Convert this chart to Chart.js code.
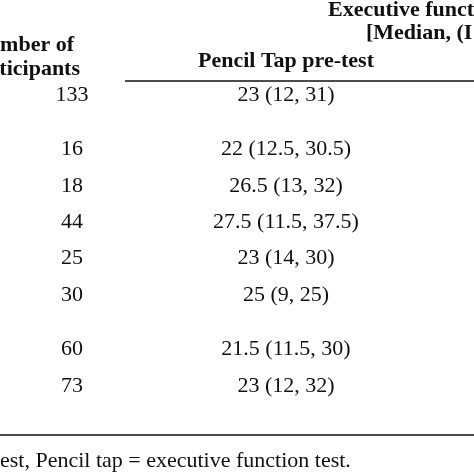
<!DOCTYPE html>
<html>
<head>
<meta charset="utf-8">
<script src="https://cdn.jsdelivr.net/npm/chart.js@4/dist/chart.umd.min.js"></script>
<style>
  html, body { margin: 0; padding: 0; background: #fff; }
  #wrap { width: 474px; height: 474px; }
</style>
</head>
<body>
<div id="wrap"><canvas id="chart"></canvas></div>
<script>
// Rows of the table (slot = vertical position in half-row steps)
const rowSlots = ['0', '3', '5', '7', '9', '11', '14', '16'];
const participants = ['133', '16', '18', '44', '25', '30', '60', '73'];
const pencilPre = ['23 (12, 31)', '22 (12.5, 30.5)', '26.5 (13, 32)', '27.5 (11.5, 37.5)',
  '23 (14, 30)', '25 (9, 25)', '21.5 (11.5, 30)', '23 (12, 32)'];
const columns = ['participants', 'pre'];
const slotLabels = Array.from({ length: 17 }, (_, i) => String(i));

const serif = '"Liberation Serif", "Times New Roman", serif';

// Text in each cell, placed at the point position from the scales
const cellText = {
  id: 'cellText',
  afterDatasetsDraw(chart) {
    const ctx = chart.ctx;
    ctx.save();
    ctx.fillStyle = '#111';
    ctx.textAlign = 'center';
    ctx.textBaseline = 'middle';
    ctx.font = '22px ' + serif;
    chart.data.datasets.forEach((ds, di) => {
      chart.getDatasetMeta(di).data.forEach((pt, i) => {
        ctx.fillText(ds.texts[i], pt.x, pt.y);
      });
    });

    // header
    ctx.font = 'bold 22px ' + serif;
    ctx.textAlign = 'left';
    ctx.fillText('Executive funct', 328, 10);
    ctx.fillText('[Median, (I', 366, 33);
    ctx.textAlign = 'right';
    ctx.fillText('umber of', 74, 45);
    ctx.fillText('ticipants', 80, 69);
    ctx.textAlign = 'center';
    ctx.fillText('Pencil Tap pre-test', 286, 61);

    // rules
    ctx.strokeStyle = '#111';
    ctx.lineWidth = 1.5;
    ctx.beginPath();
    ctx.moveTo(125, 81); ctx.lineTo(474, 81);
    ctx.moveTo(0, 435); ctx.lineTo(474, 435);
    ctx.stroke();

    // footnote
    ctx.font = '22px ' + serif;
    ctx.textAlign = 'left';
    ctx.fillText('est, Pencil tap = executive function test.', 0, 461);
    ctx.restore();
  }
};

new Chart(document.getElementById('chart'), {
  type: 'scatter',
  data: {
    datasets: [
      { texts: participants, data: rowSlots.map((s) => ({ x: columns[0], y: s })) },
      { texts: pencilPre, data: rowSlots.map((s) => ({ x: columns[1], y: s })) }
    ]
  },
  options: {
    responsive: true,
    maintainAspectRatio: false,
    animation: false,
    layout: { padding: { left: 72, right: 188, top: 95, bottom: 88 } },
    elements: { point: { radius: 0, hoverRadius: 0 } },
    plugins: { legend: { display: false }, tooltip: { enabled: false } },
    scales: {
      x: { type: 'category', labels: columns, offset: false, display: false },
      y: { type: 'category', labels: slotLabels, offset: false, display: false }
    }
  },
  plugins: [cellText]
});
</script>
</body>
</html>
